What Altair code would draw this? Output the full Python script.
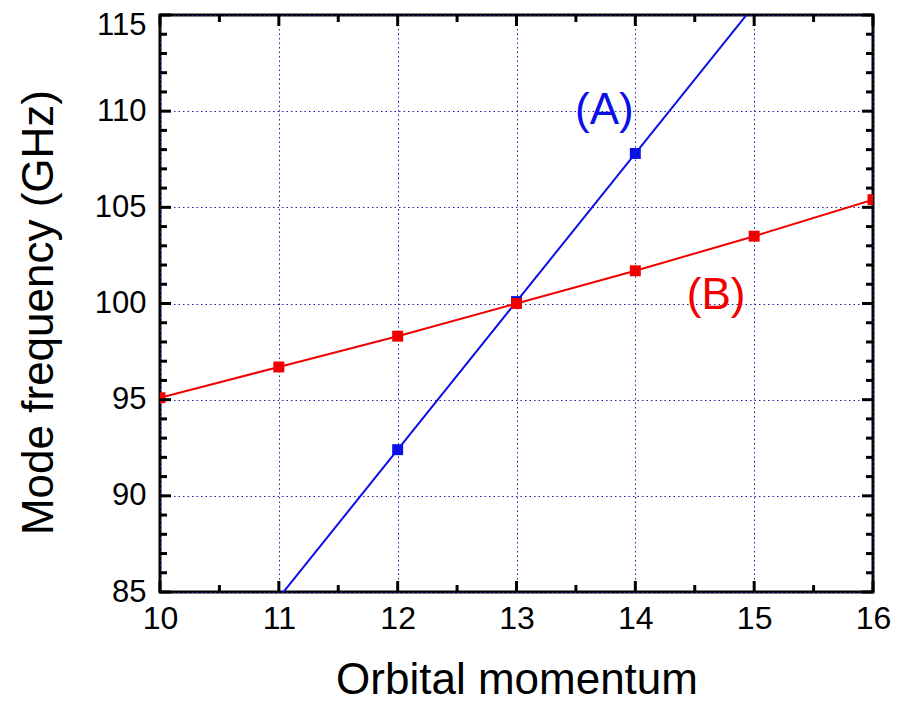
import altair as alt
import pandas as pd

# ---- data ----
a_n = [12, 13, 14]
a_f = [92.4, 100.1, 107.8]
a_fit_extent = [11, 15]

b_n = [10, 11, 12, 13, 14, 15, 16]
b_f = [95.1, 96.7, 98.3, 100.0, 101.7, 103.5, 105.4]

x_major = [10, 11, 12, 13, 14, 15, 16]
x_minor = [10.5, 11.5, 12.5, 13.5, 14.5, 15.5]
y_major = [85, 90, 95, 100, 105, 110, 115]
y_minor = [86, 87, 88, 89, 91, 92, 93, 94, 96, 97, 98, 99,
           101, 102, 103, 104, 106, 107, 108, 109, 111, 112, 113, 114]

lab_text = ["(A)", "(B)"]
lab_n = [13.74, 14.68]
lab_f = [110.0, 100.4]
lab_color = ["#0a10e6", "#f00000"]

BLUE = "#0a10e6"
RED = "#f00000"
FONT = "Liberation Sans, Arial, Helvetica, sans-serif"
W, H = 713, 577

xs = alt.Scale(domain=[10, 16], nice=False, zero=False)
ys = alt.Scale(domain=[85, 115], nice=False, zero=False)

dfa = pd.DataFrame({"n": a_n, "f": a_f})
dfb = pd.DataFrame({"n": b_n, "f": b_f})
dfl = pd.DataFrame({"n": lab_n, "f": lab_f, "t": lab_text, "c": lab_color})

x_axis = alt.Axis(
    values=x_major, format="d", labelFont=FONT, labelFontSize=32,
    labelColor="black", labelPadding=36, labelBaseline="alphabetic",
    labelFlush=False, labelOverlap=False, ticks=False, tickSize=0,
    domain=False, grid=True, gridColor="#2020a0", gridDash=[1.5, 3],
    gridWidth=1, title="Orbital momentum", titleFont=FONT,
    titleFontSize=44, titleFontWeight="normal", titleColor="black",
    titleX=W / 2, titleY=101, titleBaseline="alphabetic", titleAlign="center",
)
y_axis = alt.Axis(
    values=y_major, format="d", labelFont=FONT, labelFontSize=31,
    labelColor="black", labelPadding=14, labelBaseline="middle",
    labelOffset={"condition": {"test": "datum.value == 115", "value": 10}, "value": 0},
    labelFlush=False, labelOverlap=False, ticks=False, tickSize=0,
    domain=False, grid=True, gridColor="#2020a0", gridDash=[1.5, 3],
    gridWidth=1, title="Mode frequency (GHz)", titleFont=FONT,
    titleFontSize=44, titleFontWeight="normal", titleColor="black",
    titleX=-108, titleY=297, titleAngle=270, titleBaseline="alphabetic",
    titleAlign="center",
)

X = lambda: alt.X("n:Q", scale=xs)
Y = lambda: alt.Y("f:Q", scale=ys)

a_line = alt.Chart(dfa).transform_regression(
    "n", "f", extent=a_fit_extent
).mark_line(color=BLUE, strokeWidth=2, clip=True).encode(
    x=alt.X("n:Q", scale=xs, axis=x_axis),
    y=alt.Y("f:Q", scale=ys, axis=y_axis),
)
a_pts = alt.Chart(dfa).mark_square(color=BLUE, opacity=1, size=120, clip=True).encode(
    x=X(), y=Y(),
)
b_line = alt.Chart(dfb).mark_line(color=RED, strokeWidth=2, clip=True).encode(
    x=X(), y=Y(),
)
b_pts = alt.Chart(dfb).mark_square(color=RED, opacity=1, size=120, clip=True).encode(
    x=X(), y=Y(),
)
labels = alt.Chart(dfl).mark_text(
    font=FONT, fontSize=44, align="center", baseline="middle"
).encode(
    x=X(), y=Y(),
    text="t:N",
    color=alt.Color("c:N", scale=None),
)


def xticks(vals, y0, y1):
    return alt.Chart(pd.DataFrame({"n": vals})).mark_rule(
        color="black", strokeWidth=3
    ).encode(x=X(), y=alt.value(y0), y2=alt.value(y1))


def yticks(vals, x0, x1):
    return alt.Chart(pd.DataFrame({"f": vals})).mark_rule(
        color="black", strokeWidth=3
    ).encode(y=Y(), x=alt.value(x0), x2=alt.value(x1))


MAJ, MIN = 11, 7
ticks = [
    xticks(x_major, H, H - MAJ), xticks(x_minor, H, H - MIN),
    xticks(x_major, 0, MAJ), xticks(x_minor, 0, MIN),
    yticks(y_major, 0, MAJ), yticks(y_minor, 0, MIN),
    yticks(y_major, W, W - MAJ), yticks(y_minor, W, W - MIN),
]

chart = alt.layer(a_line, a_pts, b_line, b_pts, labels, *ticks).properties(
    width=W, height=H,
    padding={"left": 152, "top": 7, "right": 20, "bottom": 110},
    autosize=alt.AutoSizeParams(type="none"),
    background="white",
).configure_view(stroke="black", strokeWidth=3)

chart.save("out.html", embed_options={"renderer": "svg", "actions": False})
